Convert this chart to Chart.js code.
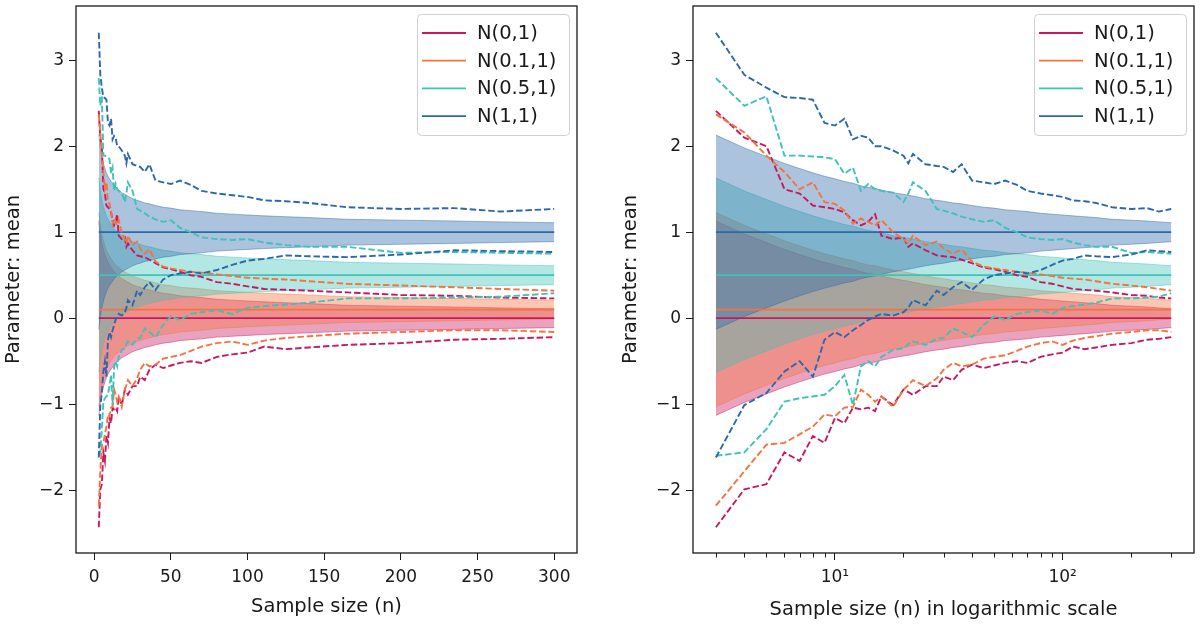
<!DOCTYPE html>
<html>
<head>
<meta charset="utf-8">
<script src="https://cdn.jsdelivr.net/npm/chart.js@4.4.1/dist/chart.umd.min.js"></script>
<style>
  html, body { margin: 0; padding: 0; background: #fff; }
  #wrap { position: relative; width: 1200px; height: 626px; overflow: hidden; }
  .panel { position: absolute; top: 0; height: 626px; }
</style>
</head>
<body>
<div id="wrap">
  <div class="panel" style="left:0; width:600px"><canvas id="linChart"></canvas></div>
  <div class="panel" style="left:617px; width:583px"><canvas id="logChart"></canvas></div>
</div>
<script>
const sampleSizes = [3, 4, 5, 6, 7, 8, 9, 10, 11, 12, 13, 14, 15, 16, 18, 20, 21, 22, 25, 28,
  30, 33, 36, 40, 45, 50, 56, 63, 70, 80, 90, 100, 111, 125, 140, 165, 200, 235, 265, 300];

// half width of the shaded band around each true mean
const bandHalfWidth = [1.13, 0.98, 0.88, 0.80, 0.74, 0.69, 0.65, 0.62, 0.59, 0.57, 0.54, 0.52, 0.51, 0.49, 0.46, 0.44, 0.43, 0.42, 0.39, 0.37,
  0.36, 0.34, 0.33, 0.31, 0.29, 0.28, 0.26, 0.25, 0.24, 0.22, 0.21, 0.20, 0.19, 0.18, 0.17, 0.15, 0.14, 0.13, 0.12, 0.11];

const seriesLabels = ["N(0,1)", "N(0.1,1)", "N(0.5,1)", "N(1,1)"];
const seriesMeans = [0, 0.1, 0.5, 1];
const seriesColors = ["#c8195f", "#f47340", "#3ec2b9", "#2c69ab"];

// dashed upper / lower curves
const crimsonUpper = [2.41, 2.10, 2.00, 1.50, 1.45, 1.31, 1.29, 1.27, 1.23, 1.14, 1.08, 1.12, 1.21, 0.96, 0.92, 0.94, 0.83, 0.87, 0.79, 0.73,
  0.72, 0.71, 0.68, 0.64, 0.59, 0.57, 0.54, 0.50, 0.48, 0.42, 0.40, 0.37, 0.34, 0.33, 0.32, 0.30, 0.27, 0.26, 0.24, 0.23];
const crimsonLower = [-2.43, -1.99, -1.93, -1.56, -1.66, -1.37, -1.45, -1.16, -1.22, -1.04, -1.06, -1.04, -1.08, -0.91, -1.01, -0.83, -0.86, -0.89, -0.79, -0.79,
  -0.68, -0.72, -0.60, -0.54, -0.58, -0.55, -0.52, -0.50, -0.52, -0.45, -0.42, -0.40, -0.33, -0.36, -0.34, -0.31, -0.29, -0.25, -0.24, -0.22];
const orangeUpper = [2.37, 2.16, 1.89, 1.70, 1.50, 1.58, 1.35, 1.33, 1.25, 1.10, 1.16, 1.12, 1.08, 1.14, 1.00, 0.92, 0.87, 0.96, 0.85, 0.89,
  0.81, 0.75, 0.80, 0.66, 0.60, 0.58, 0.56, 0.54, 0.53, 0.51, 0.49, 0.47, 0.46, 0.45, 0.43, 0.40, 0.38, 0.36, 0.34, 0.32];
const orangeLower = [-2.18, -1.78, -1.47, -1.45, -1.35, -1.26, -1.12, -1.14, -1.04, -1.03, -0.83, -0.89, -0.97, -0.91, -1.03, -0.83, -0.78, -0.72, -0.79, -0.70,
  -0.60, -0.52, -0.56, -0.54, -0.47, -0.45, -0.43, -0.38, -0.33, -0.29, -0.27, -0.31, -0.26, -0.23, -0.21, -0.18, -0.16, -0.14, -0.14, -0.16];
const turquoiseUpper = [2.79, 2.47, 2.58, 1.89, 1.89, 1.88, 1.87, 1.85, 1.68, 1.75, 1.48, 1.56, 1.50, 1.48, 1.46, 1.35, 1.45, 1.58, 1.48, 1.27,
  1.25, 1.22, 1.18, 1.15, 1.12, 1.14, 1.05, 1.00, 0.94, 0.92, 0.91, 0.92, 0.88, 0.85, 0.83, 0.83, 0.76, 0.77, 0.76, 0.75];
const turquoiseLower = [-1.60, -1.56, -1.29, -0.97, -0.93, -0.91, -0.89, -0.79, -0.66, -1.01, -0.56, -0.50, -0.56, -0.45, -0.37, -0.35, -0.30, -0.27, -0.31, -0.24,
  -0.23, -0.12, -0.16, -0.22, -0.08, 0.02, -0.02, 0.05, 0.07, 0.09, 0.05, 0.12, 0.14, 0.16, 0.18, 0.23, 0.23, 0.24, 0.25, 0.29];
const blueUpper = [3.32, 2.83, 2.68, 2.57, 2.56, 2.54, 2.27, 2.24, 2.32, 2.08, 2.12, 2.10, 2.00, 2.00, 1.95, 1.89, 1.80, 1.91, 1.79, 1.77,
  1.76, 1.70, 1.79, 1.60, 1.58, 1.56, 1.60, 1.55, 1.48, 1.45, 1.43, 1.41, 1.37, 1.36, 1.34, 1.29, 1.27, 1.28, 1.24, 1.27];
const blueLower = [-1.62, -1.01, -0.87, -0.62, -0.50, -0.68, -0.25, -0.16, -0.22, -0.14, -0.08, -0.02, 0.02, 0.05, 0.03, 0.07, 0.12, 0.21, 0.15, 0.32,
  0.27, 0.36, 0.42, 0.33, 0.45, 0.50, 0.52, 0.54, 0.52, 0.56, 0.62, 0.67, 0.69, 0.73, 0.72, 0.71, 0.74, 0.79, 0.78, 0.77];

const upperCurves = [crimsonUpper, orangeUpper, turquoiseUpper, blueUpper];
const lowerCurves = [crimsonLower, orangeLower, turquoiseLower, blueLower];

// axis ticks
const yTicks = [-2, -1, 0, 1, 2, 3];
const xTicksLinear = [0, 50, 100, 150, 200, 250, 300];
const logMajorTicks = [10, 100];
const logMajorText = ["10\u00b9", "10\u00b2"];
const logMinorTicks = [3, 4, 5, 6, 7, 8, 9, 20, 30, 40, 50, 60, 70, 80, 90, 200, 300];

const FONT = '"DejaVu Sans", "Liberation Sans", sans-serif';
const INK = "#1a1a1a";

function rgba(hex, a) {
  const v = parseInt(hex.slice(1), 16);
  return `rgba(${(v >> 16) & 255},${(v >> 8) & 255},${v & 255},${a})`;
}

function points(values) {
  return sampleSizes.map((n, i) => ({ x: n, y: values[i] }));
}

function buildDatasets() {
  const sets = [];
  seriesLabels.forEach((label, k) => {
    const m = seriesMeans[k];
    const c = seriesColors[k];
    sets.push({
      label: label + " band",
      data: sampleSizes.map((n, i) => ({ x: n, y: m + bandHalfWidth[i] })),
      borderColor: rgba(c, 0.45), borderWidth: 1,
      backgroundColor: rgba(c, 0.4), fill: "+1", order: 20 - k,
    });
    sets.push({
      label: label + " band low",
      data: sampleSizes.map((n, i) => ({ x: n, y: m - bandHalfWidth[i] })),
      borderColor: rgba(c, 0.45), borderWidth: 1, fill: false, order: 20 - k,
    });
  });
  seriesLabels.forEach((label, k) => {
    const c = seriesColors[k];
    sets.push({
      label: label,
      data: [{ x: sampleSizes[0], y: seriesMeans[k] }, { x: sampleSizes[sampleSizes.length - 1], y: seriesMeans[k] }],
      borderColor: c, borderWidth: 1.8, fill: false, order: 10 - k,
    });
    [upperCurves[k], lowerCurves[k]].forEach((curve) => {
      sets.push({
        label: label + " bound",
        data: points(curve),
        borderColor: c, borderWidth: 1.9, borderDash: [6.5, 2.8], fill: false, order: 5 - k,
      });
    });
  });
  sets.forEach((s) => { s.pointRadius = 0; s.tension = 0; });
  return sets;
}

const framePlugin = {
  id: "frame",
  afterDatasetsDraw(chart) {
    const { ctx, chartArea: a } = chart;
    ctx.save();
    if (chart.options.minorTicks) {
      const xs = chart.scales.x;
      ctx.strokeStyle = INK;
      ctx.lineWidth = 1;
      chart.options.minorTicks.forEach((v) => {
        const px = Math.round(xs.getPixelForValue(v)) + 0.5;
        ctx.beginPath();
        ctx.moveTo(px, a.bottom);
        ctx.lineTo(px, a.bottom + 4.5);
        ctx.stroke();
      });
    }
    ctx.strokeStyle = INK;
    ctx.lineWidth = 1.3;
    ctx.strokeRect(a.left, a.top, a.right - a.left, a.bottom - a.top);
    ctx.restore();
  },
};

const boxLegend = {
  id: "boxLegend",
  afterDraw(chart) {
    const { ctx, chartArea: a } = chart;
    const w = 152, h = 121;
    const x0 = a.right - 8 - w, y0 = a.top + 8;
    ctx.save();
    ctx.fillStyle = "rgba(255,255,255,0.85)";
    ctx.strokeStyle = "#d0d0d0";
    ctx.lineWidth = 1;
    ctx.beginPath();
    ctx.roundRect(x0 + 0.5, y0 + 0.5, w, h, 4);
    ctx.fill();
    ctx.stroke();
    ctx.font = "19.5px " + FONT;
    ctx.textBaseline = "middle";
    seriesLabels.forEach((label, k) => {
      const y = y0 + 19 + k * 27.7;
      ctx.strokeStyle = seriesColors[k];
      ctx.lineWidth = 1.8;
      ctx.beginPath();
      ctx.moveTo(x0 + 5, y);
      ctx.lineTo(x0 + 49, y);
      ctx.stroke();
      ctx.fillStyle = INK;
      ctx.fillText(label, x0 + 60, y + 1);
    });
    ctx.restore();
  },
};

function makeChart(canvasId, isLog, rightPad) {
  const xScale = isLog
    ? {
        type: "logarithmic", min: 2.38, max: 377.6,
        afterBuildTicks: (s) => { s.ticks = logMajorTicks.map((v) => ({ value: v, major: true })); },
        ticks: {
          autoSkip: false, maxRotation: 0, padding: 7, color: INK,
          font: { family: FONT, size: 17 },
          callback: (v) => logMajorText[logMajorTicks.indexOf(v)],
        },
        title: { display: true, text: "Sample size (n) in logarithmic scale", color: INK,
          font: { family: FONT, size: 19.5 }, padding: { top: 0, bottom: 4 } },
      }
    : {
        type: "linear", min: -11.85, max: 314.85,
        afterBuildTicks: (s) => { s.ticks = xTicksLinear.map((v) => ({ value: v })); },
        ticks: { autoSkip: false, maxRotation: 0, padding: 7, color: INK, font: { family: FONT, size: 17 } },
        title: { display: true, text: "Sample size (n)", color: INK,
          font: { family: FONT, size: 19.5 }, padding: { top: 0, bottom: 7 } },
      };
  Object.assign(xScale, {
    grid: { display: true, drawOnChartArea: false, drawTicks: true, tickLength: 7, color: INK, tickWidth: 1 },
    border: { display: false },
    afterFit: (s) => { s.height = 73; s.paddingLeft = 0; s.paddingRight = 0; },
  });

  return new Chart(document.getElementById(canvasId), {
    type: "line",
    data: { datasets: buildDatasets() },
    options: {
      responsive: true,
      maintainAspectRatio: false,
      animation: false,
      minorTicks: isLog ? logMinorTicks : null,
      layout: { padding: { left: 0, top: 6, right: rightPad, bottom: 0 } },
      plugins: { legend: { display: false }, tooltip: { enabled: false } },
      scales: {
        x: xScale,
        y: {
          type: "linear", min: -2.73, max: 3.63,
          afterBuildTicks: (s) => { s.ticks = yTicks.map((v) => ({ value: v })); },
          afterFit: (s) => { s.width = 76; s.paddingTop = 0; s.paddingBottom = 0; },
          grid: { display: true, drawOnChartArea: false, drawTicks: true, tickLength: 7, color: INK },
          border: { display: false },
          ticks: {
            padding: 5, color: INK, font: { family: FONT, size: 17 },
            callback: (v) => String(v).replace("-", "\u2212"),
          },
          title: { display: true, text: "Parameter: mean", color: INK,
            font: { family: FONT, size: 19.5 }, padding: { top: 2, bottom: 0 } },
        },
      },
    },
    plugins: [framePlugin, boxLegend],
  });
}

makeChart("linChart", false, 23);
makeChart("logChart", true, 6);
</script>
</body>
</html>
